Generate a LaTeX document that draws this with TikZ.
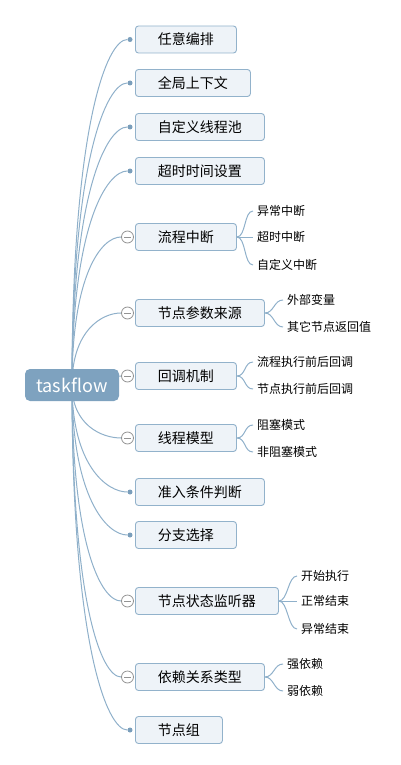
\documentclass[tikz,border=0pt]{standalone}
\usepackage{fontspec}
\setmainfont{Noto Sans CJK SC}
\usetikzlibrary{calc,backgrounds}
\definecolor{rootblue}{HTML}{7EA2BF}
\definecolor{boxfill}{HTML}{EEF3F8}
\definecolor{boxline}{HTML}{92B2CB}
\definecolor{linkblue}{HTML}{8FB0CA}
\definecolor{dotblue}{HTML}{7A9EBB}

\begin{document}
\begin{tikzpicture}[x=1pt, y=-1pt,
    roottopic/.style={rectangle, rounded corners=5pt, fill=rootblue, text=white,
      minimum width=94pt, minimum height=32pt, font=\fontsize{18}{20}\selectfont},
    topic/.style={rectangle, rounded corners=3pt, draw=boxline, fill=boxfill, line width=0.9pt,
      anchor=west, inner xsep=22.5pt, minimum height=27pt, font=\fontsize{14}{16}\selectfont},
    subtopic/.style={anchor=west, inner sep=0pt, font=\fontsize{12}{14}\selectfont},
    leafdot/.style={circle, fill=dotblue, inner sep=0pt, minimum size=5pt},
    foldmark/.style={circle, draw=gray!85, fill=white, line width=0.8pt, inner sep=0pt, minimum size=12pt,
      path picture={\draw[gray!85, line width=0.8pt] ([xshift=2.5pt]path picture bounding box.west) -- ([xshift=-2.5pt]path picture bounding box.east);}},
    branchline/.style={draw=linkblue, line width=1pt},
  ]
    \useasboundingbox (0,0) rectangle (400,765);

    \node[roottopic] (root) at (72,385) {taskflow};

    % main topics
    \node[topic] (b1) at (135,39.5) {任意编排};
    \node[topic] (b2) at (135,83) {全局上下文};
    \node[topic] (b3) at (135,127) {自定义线程池};
    \node[topic] (b4) at (135,171) {超时时间设置};
    \node[topic] (b5) at (135,237) {流程中断};
    \node[topic] (b6) at (135,313) {节点参数来源};
    \node[topic] (b7) at (135,376) {回调机制};
    \node[topic] (b8) at (135,438) {线程模型};
    \node[topic] (b9) at (135,492) {准入条件判断};
    \node[topic] (b10) at (135,535) {分支选择};
    \node[topic] (b11) at (135,601) {节点状态监听器};
    \node[topic] (b12) at (135,677) {依赖关系类型};
    \node[topic] (b13) at (135,730) {节点组};

    % dots and fold marks
    \node[leafdot] (d1) at (130,39.5) {};
    \node[leafdot] (d2) at (130,83) {};
    \node[leafdot] (d3) at (130,127) {};
    \node[leafdot] (d4) at (130,171) {};
    \node[foldmark] (k5) at (127.5,237) {};
    \node[foldmark] (k6) at (127.5,313) {};
    \node[foldmark] (k7) at (127.5,376) {};
    \node[foldmark] (k8) at (127.5,438) {};
    \node[leafdot] (d9) at (130,492) {};
    \node[leafdot] (d10) at (130,535) {};
    \node[foldmark] (k11) at (127.5,601) {};
    \node[foldmark] (k12) at (127.5,677) {};
    \node[leafdot] (d13) at (130,730) {};

    % sub topics
    \node[subtopic] (c51) at (257,211) {异常中断};
    \node[subtopic] (c52) at (257,237) {超时中断};
    \node[subtopic] (c53) at (257,265) {自定义中断};
    \node[subtopic] (c61) at (287,300) {外部变量};
    \node[subtopic] (c62) at (287,327) {其它节点返回值};
    \node[subtopic] (c71) at (257,362) {流程执行前后回调};
    \node[subtopic] (c72) at (257,389) {节点执行前后回调};
    \node[subtopic] (c81) at (257,425) {阻塞模式};
    \node[subtopic] (c82) at (257,452) {非阻塞模式};
    \node[subtopic] (c111) at (301,576) {开始执行};
    \node[subtopic] (c112) at (301,601) {正常结束};
    \node[subtopic] (c113) at (301,629) {异常结束};
    \node[subtopic] (c121) at (287,664) {强依赖};
    \node[subtopic] (c122) at (287,691) {弱依赖};

    \begin{pgfonlayer}{background}
      \foreach \e in {d1,d2,d3,d4,k5.west,k6.west,k7.west,k8.west,d9,d10,k11.west,k12.west,d13}
        \draw[branchline] (root.center) .. controls ($(root.center)!0.75!(root.center|-\e)$)
          and ($(root.center|-\e)!0.6!(\e)$) .. (\e);
      \foreach \p/\c in {b5/c51,b5/c52,b5/c53,b6/c61,b6/c62,b7/c71,b7/c72,b8/c81,b8/c82,
          b11/c111,b11/c112,b11/c113,b12/c121,b12/c122}
        \draw[branchline] (\p.east) .. controls +(9,0) and +(-9,0) .. ([xshift=-4pt]\c.west);
    \end{pgfonlayer}
  \end{tikzpicture}
\end{document}
